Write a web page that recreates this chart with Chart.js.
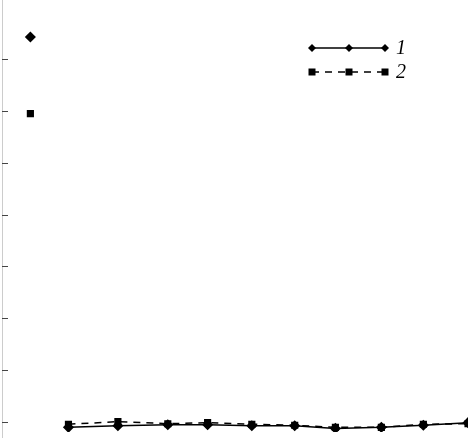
<!DOCTYPE html>
<html>
<head>
<script src="https://cdn.jsdelivr.net/npm/chart.js@4"></script>
<style>
html, body { margin: 0; padding: 0; background: #fff; }
#wrap { width: 474px; height: 438px; }
</style>
</head>
<body>
<div id="wrap"><canvas id="c"></canvas></div>
<script>
// x positions
const xs = [0, 0.87, 2.0, 3.14, 4.05, 5.06, 6.04, 6.97, 8.02, 8.98, 10.0];
const yTicks = [0, 1, 2, 3, 4, 5, 6, 7];
// first point stands alone, then the curve (null breaks the line)
const series1 = [7.43, null, -0.11, -0.08, -0.06, -0.06, -0.08, -0.08, -0.13, -0.11, -0.07, -0.02];
const series2 = [5.95, null, -0.05, 0.0, -0.04, -0.02, -0.05, -0.07, -0.11, -0.11, -0.05, -0.04];
const xsWithGap = [xs[0], xs[0] + 0.5].concat(xs.slice(1));

function toPoints(vals) {
    return vals.map((v, i) => ({ x: xsWithGap[i], y: v }));
}

// axis line with inward ticks + legend
const decor = {
    id: 'decor',
    afterDraw(chart) {
        const c = chart.ctx;
        const y = chart.scales.y;
        c.save();
        c.strokeStyle = '#ccc';
        c.lineWidth = 1;
        c.beginPath();
        c.moveTo(2.5, 0);
        c.lineTo(2.5, 438);
        c.stroke();
        c.strokeStyle = '#444';
        yTicks.forEach(t => {
            const py = Math.round(y.getPixelForValue(t)) + 0.5;
            c.beginPath();
            c.moveTo(2, py);
            c.lineTo(8, py);
            c.stroke();
        });
        // legend
        const rows = [{ y: 48, dash: [], shape: 'diamond', label: '1' },
                      { y: 72, dash: [7, 6], shape: 'square', label: '2' }];
        rows.forEach(r => {
            c.strokeStyle = '#000';
            c.lineWidth = 1.5;
            c.setLineDash(r.dash);
            c.beginPath();
            c.moveTo(312, r.y);
            c.lineTo(385, r.y);
            c.stroke();
            c.setLineDash([]);
            c.fillStyle = '#000';
            [312, 349, 385].forEach(px => {
                c.beginPath();
                if (r.shape === 'diamond') {
                    c.moveTo(px, r.y - 4); c.lineTo(px + 4, r.y);
                    c.lineTo(px, r.y + 4); c.lineTo(px - 4, r.y);
                } else {
                    c.rect(px - 3.5, r.y - 3.5, 7, 7);
                }
                c.fill();
            });
            c.font = 'italic 20px "Liberation Serif", "DejaVu Serif", serif';
            c.textBaseline = 'middle';
            c.fillText(r.label, 396, r.y + 1);
        });
        c.restore();
    }
};

new Chart(document.getElementById('c'), {
    type: 'line',
    data: {
        datasets: [{
            label: '1',
            data: toPoints(series1),
            borderColor: '#000',
            backgroundColor: '#000',
            borderWidth: 1.5,
            pointStyle: 'rectRot',
            pointRadius: 4.5,
            spanGaps: false
        }, {
            label: '2',
            data: toPoints(series2),
            borderColor: '#000',
            backgroundColor: '#000',
            borderWidth: 1.5,
            borderDash: [7, 6],
            pointStyle: 'rect',
            pointRadius: 4,
            spanGaps: false
        }]
    },
    options: {
        responsive: true,
        maintainAspectRatio: false,
        animation: false,
        layout: { padding: 0 },
        plugins: { legend: { display: false }, tooltip: { enabled: false } },
        scales: {
            x: { type: 'linear', min: -0.557, max: 10.0, display: false },
            y: { min: -0.2, max: 8.03, display: false }
        }
    },
    plugins: [decor]
});
</script>
</body>
</html>
